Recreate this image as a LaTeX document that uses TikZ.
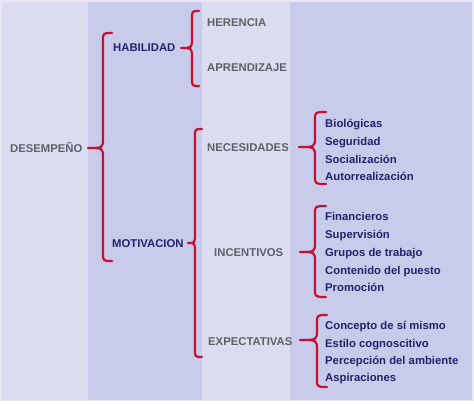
\documentclass[tikz,border=0pt]{standalone}
\usepackage{fontspec}
\setmainfont{Liberation Sans}
\definecolor{lightcol}{RGB}{220,221,240}
\definecolor{darkcol}{RGB}{201,203,234}
\definecolor{edgecol}{RGB}{234,230,244}
\definecolor{graytxt}{RGB}{96,96,104}
\definecolor{bluetxt}{RGB}{36,34,110}
\definecolor{bracered}{RGB}{196,16,50}
\newcommand\redbrace[6]{%
  \draw[bracestyle] (#6,#4) .. controls (#3,#4) .. (#3,#4+8) -- (#3,#2-10)
    .. controls (#3,#2) .. (#1,#2) .. controls (#3,#2) .. (#3,#2+10)
    -- (#3,#5-8) .. controls (#3,#5) .. (#6,#5);}
\begin{document}
\begin{tikzpicture}[x=1pt,y=-1pt,
  bracestyle/.style={draw=bracered,line width=2.2pt,line cap=round,line join=round},
  lbl/.style={anchor=west,inner sep=0pt,text height=8pt,text depth=0pt,
    font=\fontsize{11.3}{13}\selectfont\bfseries},
  grayl/.style={lbl,text=graytxt},
  bluel/.style={lbl,text=bluetxt}]
\useasboundingbox (0,0) rectangle (474,404);
\fill[white] (0,0) rectangle (474,404);
\fill[edgecol] (0,0) rectangle (474,401);
\fill[lightcol] (2,2) rectangle (88,400);
\fill[darkcol] (88,2) rectangle (202,400);
\fill[lightcol] (202,2) rectangle (290,400);
\fill[darkcol] (290,2) rectangle (472,400);
% level 0
\node[grayl] (des) at (10,148) {DESEMPEÑO};
% level 1
\node[bluel] (hab) at (113,48) {HABILIDAD};
\node[bluel] (mot) at (112,243) {MOTIVACION};
% level 2
\node[grayl] (her) at (207,23) {HERENCIA};
\node[grayl] (apr) at (207,67) {APRENDIZAJE};
\node[grayl] (nec) at (207,147) {NECESIDADES};
\node[grayl] (inc) at (214,252) {INCENTIVOS};
\node[grayl] (exp) at (208,341) {EXPECTATIVAS};
% level 3
\node[bluel] (n1) at (325,123) {Biológicas};
\node[bluel] (n2) at (325,141) {Seguridad};
\node[bluel] (n3) at (325,159) {Socialización};
\node[bluel] (n4) at (325,176) {Autorrealización};
\node[bluel] (i1) at (325,216) {Financieros};
\node[bluel] (i2) at (325,234) {Supervisión};
\node[bluel] (i3) at (325,252) {Grupos de trabajo};
\node[bluel] (i4) at (325,270) {Contenido del puesto};
\node[bluel] (i5) at (325,287) {Promoción};
\node[bluel] (e1) at (325,325) {Concepto de sí mismo};
\node[bluel] (e2) at (325,343) {Estilo cognoscitivo};
\node[bluel] (e3) at (325,360) {Percepción del ambiente};
\node[bluel] (e4) at (325,377) {Aspiraciones};
% braces: tip x, mid y, vertical x, top y, bottom y, end x
\redbrace{88}{148}{103}{33}{261}{112}
\redbrace{181}{48}{192}{11}{86}{199}
\redbrace{188}{243}{195}{129}{357}{202}
\redbrace{299}{147}{315}{112}{184}{326}
\redbrace{300}{252}{315}{206}{297}{326}
\redbrace{300}{340}{317}{315}{387}{327}
\end{tikzpicture}
\end{document}
